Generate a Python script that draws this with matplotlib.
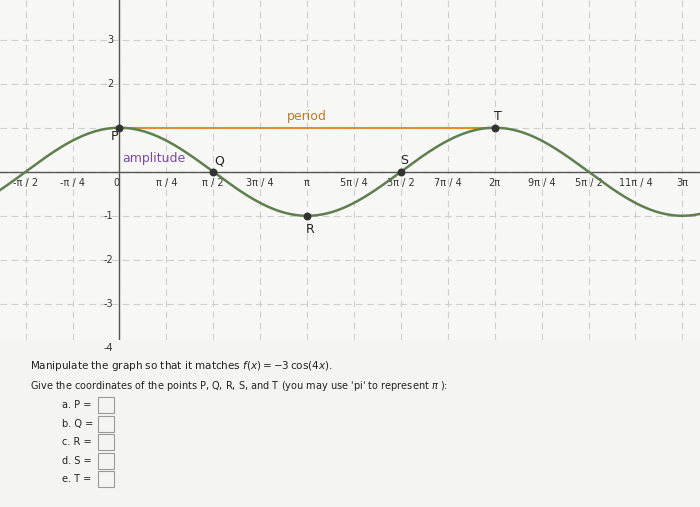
import numpy as np
import matplotlib.pyplot as plt
from matplotlib.patches import Rectangle

# tick positions / labels
x_ticks = np.arange(-2, 13) * np.pi / 4
x_labels = ["-π / 2", "-π / 4", "0", "π / 4", "π / 2", "3π / 4", "π", "5π / 4",
            "3π / 2", "7π / 4", "2π", "9π / 4", "5π / 2", "11π / 4", "3π"]
y_ticks = [3, 2, -1, -2, -3, -4]

# labelled points on the curve
pt_names = ["P", "Q", "R", "S", "T"]
pt_x = [0, np.pi / 2, np.pi, 3 * np.pi / 2, 2 * np.pi]
pt_y = [1, 0, -1, 0, 1]
pt_off = [(-0.08, -0.2), (0.1, 0.25), (0.05, -0.3), (0.05, 0.25), (0.05, 0.25)]

fig = plt.figure(figsize=(7.0, 5.07), dpi=100)
fig.patch.set_facecolor("#f4f4f2")
ax = fig.add_axes([0, 1 - 340 / 507, 1, 340 / 507])
ax.set_facecolor("#f7f7f5")
ax.set_xlim(-2.0, 9.72)
ax.set_ylim(-3.82, 3.9)
for s in ax.spines.values():
    s.set_visible(False)
ax.set_xticks([])
ax.set_yticks([])

for xv in x_ticks:
    ax.axvline(xv, color="#cfcfcf", lw=0.8, ls=(0, (6, 4)), zorder=0)
for yv in range(-4, 4):
    ax.axhline(yv, color="#cfcfcf", lw=0.8, ls=(0, (6, 4)), zorder=0)
ax.axhline(0, color="#555555", lw=1.0, zorder=1)
ax.axvline(0, color="#555555", lw=1.0, zorder=1)

for xv, lab in zip(x_ticks, x_labels):
    ax.text(xv if lab != "0" else -0.05, -0.15, lab, ha="center", va="top",
            fontsize=7, color="#333333")
for yv in y_ticks:
    ax.text(-0.1, yv, str(yv), ha="right", va="center", fontsize=7, color="#333333")

xs = np.linspace(-2.0, 9.72, 600)
ax.plot(xs, np.cos(xs), color="#5f7f4f", lw=1.8, zorder=3)
ax.plot([0, 2 * np.pi], [1, 1], color="#e0902a", lw=1.5, zorder=2)
ax.text(np.pi, 1.1, "period", ha="center", va="bottom", fontsize=9, color="#c07a20")
ax.text(0.05, 0.3, "amplitude", ha="left", va="center", fontsize=9, color="#7a4aa0")

ax.scatter(pt_x, pt_y, s=22, color="#333333", zorder=4)
for n, x, y, (dx, dy) in zip(pt_names, pt_x, pt_y, pt_off):
    ax.text(x + dx, y + dy, n, ha="center", va="center", fontsize=9, color="#222222")

fig.text(30 / 700, 1 - 366 / 507, "Manipulate the graph so that it matches $f(x) = -3\\,\\cos(4x)$.",
         fontsize=7.5, va="center", color="#222222")
fig.text(30 / 700, 1 - 386 / 507,
         "Give the coordinates of the points P, Q, R, S, and T (you may use 'pi' to represent $\\pi$ ):",
         fontsize=7, va="center", color="#222222")
answers = ["a. P =", "b. Q =", "c. R =", "d. S =", "e. T ="]
for i, a in enumerate(answers):
    yp = 405 + i * 18.5
    fig.text(62 / 700, 1 - yp / 507, a, fontsize=7, va="center", color="#222222")
    fig.patches.append(Rectangle(((98) / 700, 1 - (yp + 8) / 507), 16 / 700, 16 / 507,
                                 transform=fig.transFigure, fill=False,
                                 edgecolor="#999999", lw=0.8))

fig.savefig("out.png", dpi=100)
